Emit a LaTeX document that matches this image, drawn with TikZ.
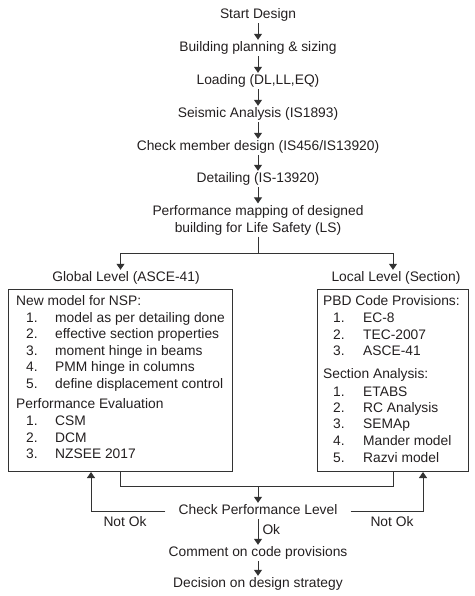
\documentclass[tikz,border=0pt]{standalone}
\usepackage{fontspec}
\setmainfont{Liberation Sans}
\usetikzlibrary{arrows.meta,calc}
\definecolor{ink}{HTML}{231F20}
\definecolor{ln}{HTML}{333333}
\begin{document}
\begin{tikzpicture}[x=1pt,y=-1pt,
  every node/.style={font=\fontsize{13.8}{17}\selectfont, text=ink},
  flow/.style={inner xsep=1pt, inner ysep=1.5pt, text height=10pt, text depth=3pt},
  item/.style={anchor=west, inner sep=0pt, text height=10pt, text depth=3pt},
  box/.style={draw=ln, line width=1pt, rectangle, anchor=north west, inner sep=0pt},
  conn/.style={draw=ln, line width=1pt},
  arr/.style={conn, -{Triangle[width=8pt,length=6pt]}}]
\path[use as bounding box] (0,0) rectangle (474,596);

% main flow
\node[flow] (s1) at (258,15) {Start Design};
\node[flow] (s2) at (258,48) {Building planning \& sizing};
\node[flow] (s3) at (258,81) {Loading (DL,LL,EQ)};
\node[flow] (s4) at (258,114) {Seismic Analysis (IS1893)};
\node[flow] (s5) at (258,147) {Check member design (IS456/IS13920)};
\node[flow] (s6) at (258,179) {Detailing (IS-13920)};
\node[align=center, inner sep=1.5pt] (perf) at (258,220) {Performance mapping of designed\\building for Life Safety (LS)};

\draw[arr] (s1) -- (s2);
\draw[arr] (s2) -- (s3);
\draw[arr] (s3) -- (s4);
\draw[arr] (s4) -- (s5);
\draw[arr] (s5) -- (s6);
\draw[arr] (s6) -- (perf);

% level headings
\node[flow] (glob) at (126,278) {Global Level (ASCE-41)};
\node[flow] (loc) at (396,278) {Local Level (Section)};

% boxes
\node[box, minimum width=224pt, minimum height=182pt] (lbox) at (8,289) {};
\node[box, minimum width=151pt, minimum height=182pt] (rbox) at (317,289) {};

\coordinate (jt) at (258,253);
\draw[conn] (perf.south) -- (jt);
\draw[arr] (jt) -| (lbox.north |- glob.north);
\draw[arr] (jt) -| (rbox.north |- loc.north);

% left box content
\node[item] (lh1) at (16,302) {New model for NSP:};
\foreach \nm/\y/\num/\t in {la1/319/1./model as per detailing done,
                            la2/335/2./effective section properties,
                            la3/352/3./moment hinge in beams,
                            la4/368/4./PMM hinge in columns,
                            la5/385/5./define displacement control}{
  \node[item] (\nm n) at (26,\y) {\num};
  \node[item] (\nm) at (55,\y) {\t};
}
\node[item] (lh2) at (16,405) {Performance Evaluation};
\foreach \nm/\y/\num/\t in {lb1/422/1./CSM,
                            lb2/439/2./DCM,
                            lb3/455/3./NZSEE 2017}{
  \node[item] (\nm n) at (26,\y) {\num};
  \node[item] (\nm) at (55,\y) {\t};
}

% right box content
\node[item] (rh1) at (323,302) {PBD Code Provisions:};
\foreach \nm/\y/\num/\t in {ra1/319/1./EC-8,
                            ra2/336/2./TEC-2007,
                            ra3/352/3./ASCE-41}{
  \node[item] (\nm n) at (333,\y) {\num};
  \node[item] (\nm) at (363,\y) {\t};
}
\node[item] (rh2) at (323,375) {Section Analysis:};
\foreach \nm/\y/\num/\t in {rb1/393/1./ETABS,
                            rb2/409/2./RC Analysis,
                            rb3/425/3./SEMAp,
                            rb4/442/4./Mander model,
                            rb5/459/5./Razvi model}{
  \node[item] (\nm n) at (333,\y) {\num};
  \node[item] (\nm) at (363,\y) {\t};
}

% bottom part
\node[flow, inner xsep=13pt] (check) at (258,511) {Check Performance Level};
\node[flow] (comment) at (258,553) {Comment on code provisions};
\node[flow] (decision) at (258,584) {Decision on design strategy};

\coordinate (jb) at (258,486);
\draw[conn] (lbox.south) |- (jb);
\draw[conn] (rbox.south) |- (jb);
\draw[arr] (jb) -- (check);

\draw[arr] (check.west) -| ($(lbox.south west)+(83,0)$);
\draw[arr] (check.east) -| ($(rbox.south west)+(106,0)$);
\node[flow] (nok1) at (125,523) {Not Ok};
\node[flow] (nok2) at (392,523) {Not Ok};

\draw[arr] (check) -- (comment) node[pos=0.45, right, flow, xshift=3pt] (ok) {Ok};
\draw[arr] (comment) -- (decision);
\end{tikzpicture}
\end{document}
